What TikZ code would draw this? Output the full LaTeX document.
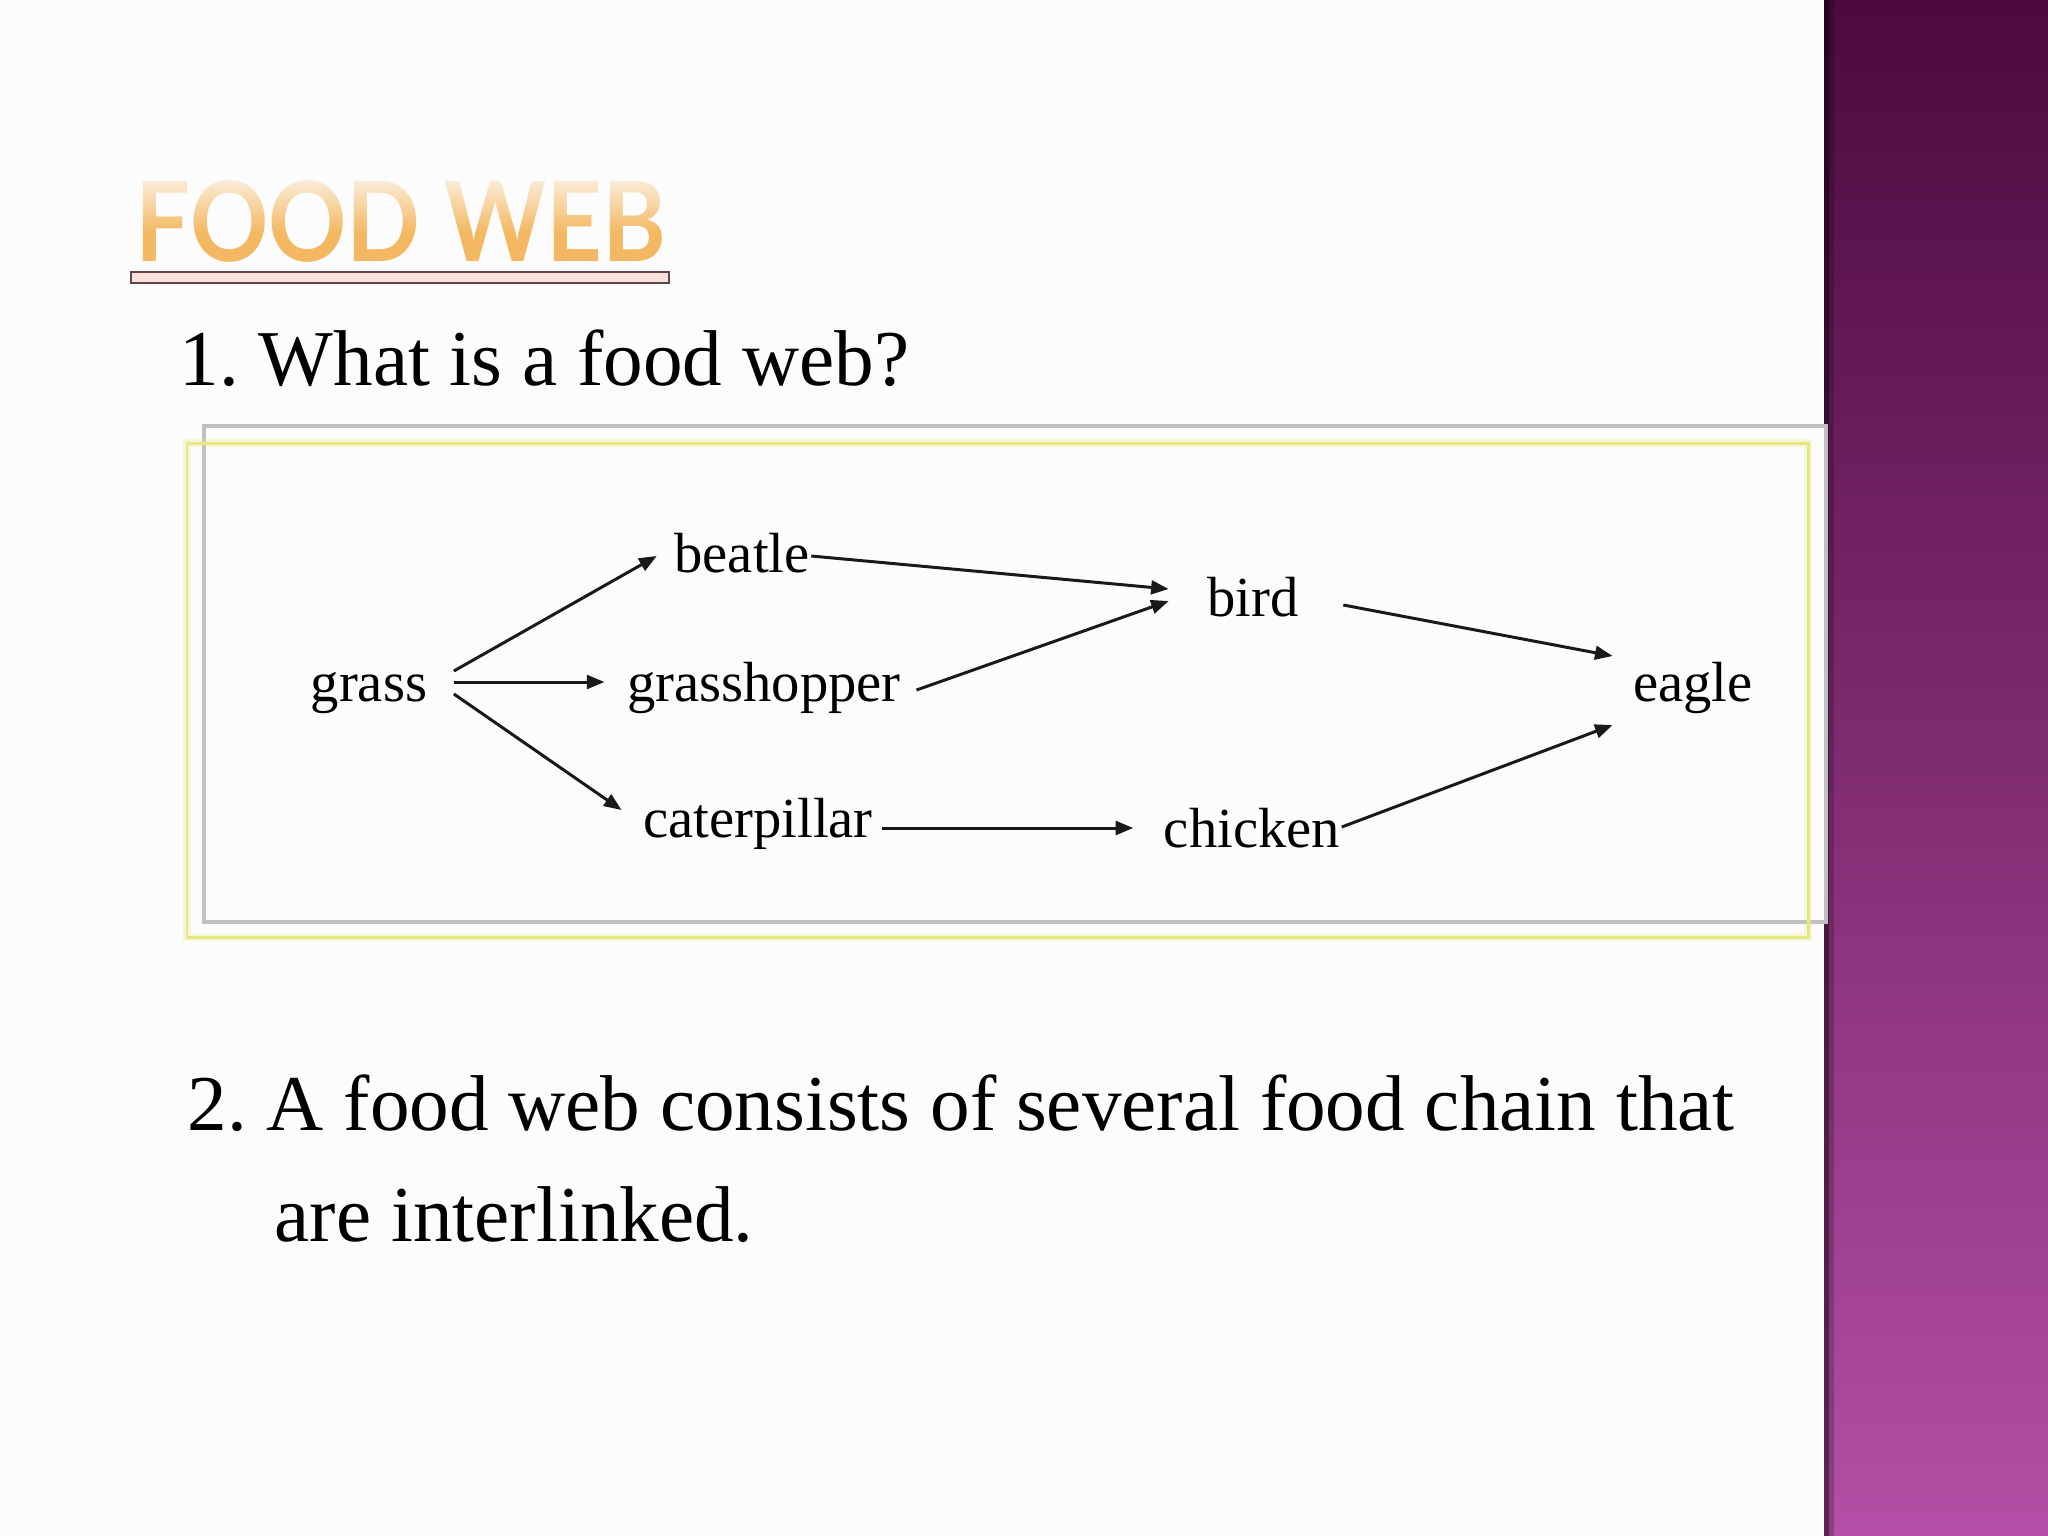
\documentclass[tikz,border=0pt]{standalone}
\usepackage{fontspec}
\setmainfont{Liberation Serif}
\newfontfamily\titlefont{Lato}
\usetikzlibrary{arrows.meta,calc,fadings}
\definecolor{bg}{RGB}{252,252,252}
\definecolor{ptop}{RGB}{76,10,62}
\definecolor{pmid}{RGB}{124,43,108}
\definecolor{pbot}{RGB}{180,78,166}
\definecolor{graybox}{RGB}{192,192,196}
\definecolor{yellowbox}{RGB}{230,230,130}
\definecolor{titleorange}{RGB}{244,184,98}
\definecolor{barborder}{RGB}{100,70,70}
\definecolor{barfill}{RGB}{252,226,220}
\definecolor{ink}{RGB}{0,0,0}
\tikzfading[name=titlefade, top color=transparent!15, bottom color=transparent!100]
\begin{document}
\frenchspacing
\begin{tikzpicture}[x=0.01cm,y=-0.01cm,
  lbl/.style={font=\fontsize{16.1}{19}\selectfont, inner sep=0pt, anchor=base, text=ink},
  arr/.style={line width=0.85pt, draw=ink!90, -{Triangle[length=5pt,width=3.9pt]}},
  body/.style={font=\fontsize{22.5}{27}\selectfont, inner sep=0pt, anchor=base west, text=ink}]
\useasboundingbox (0,0) rectangle (2048,1536);
\fill[bg] (0,0) rectangle (2048,1536);
% purple side bar
\shade[top color=ptop, middle color=pmid, bottom color=pbot] (1824,0) rectangle (2048,1536);
\fill[black, opacity=0.5] (1824,0) rectangle (1829,1536);
\fill[black, opacity=0.2] (1829,0) rectangle (1834,1536);
% title
\node[anchor=base west, inner sep=0pt, text=titleorange] (title) at (135,261)
  {\resizebox{5.30cm}{0.81cm}{\titlefont\bfseries FOOD WEB}};
\fill[bg, path fading=titlefade] (125,175) rectangle (680,232);
\draw[draw=barborder, fill=barfill, line width=0.6pt] (131,272) rectangle (669,283);
% question
\node[body] (q1) at (179,385) {1. What is a food web?};
% frames
\draw[graybox, line width=1.1pt] (204,426) rectangle (1826,922);
\draw[yellowbox, opacity=0.3, line width=2.4pt] (187,443) rectangle (1808,937);
\draw[yellowbox, line width=0.85pt] (187,443) rectangle (1808,937);
% food web labels
\node[lbl] (grass) at (369,701) {grass};
\node[lbl] (beatle) at (742,572) {beatle};
\node[lbl] (grasshopper) at (764,701) {grasshopper};
\node[lbl] (caterpillar) at (758,837) {caterpillar};
\node[lbl] (bird) at (1253,616) {bird};
\node[lbl] (chicken) at (1252,847) {chicken};
\node[lbl] (eagle) at (1693,701) {eagle};
% arrows
\draw[arr] ($(grass.base east)+(26,-30)$) -- ($(beatle.base west)+(-17,-16)$);
\draw[arr] ($(grass.base east)+(26,-19)$) -- ($(grasshopper.base west)+(-22,-19)$);
\draw[arr] ($(grass.base east)+(26,-7)$) -- ($(caterpillar.base west)+(-21,-27)$);
\draw[arr] ($(beatle.base east)+(1,-16)$) -- ($(bird.base west)+(-38,-27)$);
\draw[arr] ($(grasshopper.base east)+(15,-11)$) -- ($(bird.base west)+(-38,-15)$);
\draw[arr] ($(bird.base east)+(44,-11)$) -- ($(eagle.base west)+(-20,-45)$);
\draw[arr] ($(caterpillar.base east)+(9,-9)$) -- ($(chicken.base west)+(-30,-19)$);
\draw[arr] ($(chicken.base east)+(1,-20)$) -- ($(eagle.base west)+(-20,24)$);
% statement
\node[body] (p2a) at (187,1130) {2. A food web consists of several food chain that};
\node[body] (p2b) at (274,1241) {are interlinked.};
\end{tikzpicture}
\end{document}
